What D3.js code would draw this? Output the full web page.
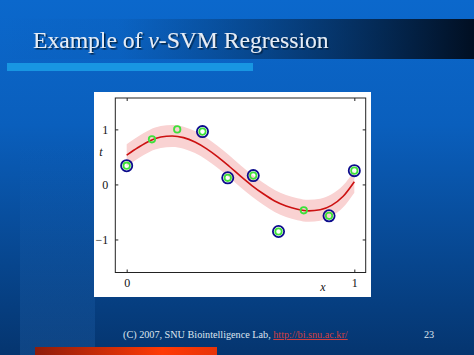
<!DOCTYPE html>
<html>
<head>
<meta charset="utf-8">
<script src="https://cdn.jsdelivr.net/npm/d3@7"></script>
<style>
  html, body { margin: 0; padding: 0; background: #0a5cb8; }
  svg { display: block; }
</style>
</head>
<body>
<div class="chart"></div>
<script>
// training points (x_n, t_n) and which ones are support vectors
const xPoints = [0, 0.111, 0.222, 0.333, 0.444, 0.556, 0.667, 0.778, 0.889, 1];
const tPoints = [0.34, 0.82, 1.0, 0.96, 0.12, 0.16, -0.855, -0.47, -0.57, 0.25];
const isSupport = [true, false, false, true, true, true, true, false, true, true];

// fitted regression curve
const curveX = [0, 0.05, 0.1, 0.15, 0.2, 0.25, 0.3, 0.35, 0.4, 0.45, 0.5,
                0.55, 0.6, 0.65, 0.7, 0.75, 0.8, 0.85, 0.9, 0.95, 1];
const curveY = [0.53, 0.67, 0.79, 0.86, 0.88, 0.85, 0.77, 0.65, 0.5, 0.33, 0.15,
                -0.02, -0.17, -0.3, -0.39, -0.45, -0.48, -0.46, -0.38, -0.22, 0.05];
const epsilon = 0.2;

const xTicks = [0, 1];
const xTickLabels = ["0", "1"];
const yTicks = [-1, 0, 1];
const yTickLabels = ["\u22121", "0", "1"];

const width = 474, height = 355;

let svg = d3.select(".chart").append("svg")
  .attr("width", width)
  .attr("height", height);

let defs = svg.append("defs");

let bg = defs.append("linearGradient").attr("id", "bg")
  .attr("x1", 0).attr("y1", 0).attr("x2", 0).attr("y2", 1);
bg.append("stop").attr("offset", "0%").attr("stop-color", "#0b68cc");
bg.append("stop").attr("offset", "35%").attr("stop-color", "#0a5fbd");
bg.append("stop").attr("offset", "100%").attr("stop-color", "#05356f");

let col = defs.append("linearGradient").attr("id", "col")
  .attr("x1", 0).attr("y1", 0).attr("x2", 0).attr("y2", 1);
col.append("stop").attr("offset", "40%").attr("stop-color", "#3a8ae0").attr("stop-opacity", 0);
col.append("stop").attr("offset", "100%").attr("stop-color", "#3a8ae0").attr("stop-opacity", 0.18);

let band = defs.append("linearGradient").attr("id", "band")
  .attr("x1", 0).attr("y1", 0).attr("x2", 1).attr("y2", 0);
band.append("stop").attr("offset", "0%").attr("stop-color", "#04254d").attr("stop-opacity", 0);
band.append("stop").attr("offset", "25%").attr("stop-color", "#04254d").attr("stop-opacity", 0.05);
band.append("stop").attr("offset", "100%").attr("stop-color", "#010f22").attr("stop-opacity", 1);

let orange = defs.append("linearGradient").attr("id", "orange")
  .attr("x1", 0).attr("y1", 0).attr("x2", 1).attr("y2", 0);
orange.append("stop").attr("offset", "0%").attr("stop-color", "#8e1c0a");
orange.append("stop").attr("offset", "70%").attr("stop-color", "#ff3a05");
orange.append("stop").attr("offset", "100%").attr("stop-color", "#e83408");

let shadow = defs.append("filter").attr("id", "shadow");
shadow.append("feDropShadow").attr("dx", 1.5).attr("dy", 1.5)
  .attr("stdDeviation", 0.6).attr("flood-color", "#021a3a").attr("flood-opacity", 0.9);

// slide background
svg.append("rect").attr("width", width).attr("height", height).attr("fill", "url(#bg)");
svg.append("rect").attr("x", 20).attr("y", 0).attr("width", 75).attr("height", height)
  .attr("fill", "url(#col)");
svg.append("rect").attr("x", 0).attr("y", 19).attr("width", width).attr("height", 40)
  .attr("fill", "url(#band)");
svg.append("rect").attr("x", 7).attr("y", 63).attr("width", 246).attr("height", 8)
  .attr("fill", "#1896e2");
svg.append("rect").attr("x", 35).attr("y", 347).attr("width", 182).attr("height", 8)
  .attr("fill", "url(#orange)");

// title
let title = svg.append("text")
  .attr("x", 33).attr("y", 48)
  .attr("font-family", "Liberation Serif, Times New Roman, serif")
  .attr("font-size", 23.6)
  .attr("fill", "#e6edf6")
  .attr("filter", "url(#shadow)");
title.append("tspan").text("Example of ");
title.append("tspan").attr("font-style", "italic").text("ν");
title.append("tspan").text("-SVM Regression");

// footer
let foot = svg.append("text")
  .attr("x", 123).attr("y", 338)
  .attr("font-family", "Liberation Serif, Times New Roman, serif")
  .attr("font-size", 10.2)
  .attr("fill", "#dfe6f0");
foot.append("tspan").text("(C) 2007, SNU Biointelligence Lab, ");
foot.append("tspan").attr("fill", "#d04040").attr("text-decoration", "underline")
  .text("http://bi.snu.ac.kr/");
svg.append("text")
  .attr("x", 429).attr("y", 338).attr("text-anchor", "middle")
  .attr("font-family", "Liberation Serif, Times New Roman, serif")
  .attr("font-size", 10.2).attr("fill", "#dfe6f0")
  .text("23");

// white figure panel
svg.append("rect").attr("x", 94).attr("y", 92).attr("width", 277).attr("height", 205)
  .attr("fill", "#ffffff");

let x = d3.scaleLinear().domain([-0.05, 1.05]).range([115.3, 365.7]);
let y = d3.scaleLinear().domain([-1.6, 1.57]).range([272.5, 98]);

let plot = svg.append("g");

let curve = curveX.map((d, i) => [d, curveY[i]]);

let area = d3.area()
  .x((d) => x(d[0]))
  .y0((d) => y(d[1] - epsilon))
  .y1((d) => y(d[1] + epsilon))
  .curve(d3.curveMonotoneX);

plot.append("path")
  .datum(curve)
  .attr("d", area)
  .attr("fill", "#f9d2d2");

let line = d3.line()
  .x((d) => x(d[0]))
  .y((d) => y(d[1]))
  .curve(d3.curveMonotoneX);

plot.append("path")
  .datum(curve)
  .attr("d", line)
  .attr("fill", "none")
  .attr("stroke", "#cc1111")
  .attr("stroke-width", 1.6);

let pts = xPoints.map((d, i) => ({x: d, t: tPoints[i], sv: isSupport[i]}));

plot.selectAll(".sv")
  .data(pts.filter((d) => d.sv))
  .enter().append("circle")
    .attr("class", "sv")
    .attr("cx", (d) => x(d.x))
    .attr("cy", (d) => y(d.t))
    .attr("r", 5.6)
    .attr("fill", "none")
    .attr("stroke", "#0c0c8c")
    .attr("stroke-width", 1.8);

plot.selectAll(".pt")
  .data(pts)
  .enter().append("circle")
    .attr("class", "pt")
    .attr("cx", (d) => x(d.x))
    .attr("cy", (d) => y(d.t))
    .attr("r", 3.2)
    .attr("fill", "none")
    .attr("stroke", "#3ee03a")
    .attr("stroke-width", 1.8);

// axes box with inward ticks
const axisFont = "Liberation Serif, Times New Roman, serif";

function styleAxis(g) {
  g.select(".domain").remove();
  g.selectAll("line").attr("stroke", "#222");
  g.selectAll("text").attr("font-family", axisFont).attr("font-size", 12).attr("fill", "#111");
}

svg.append("g")
  .attr("transform", "translate(0," + y.range()[0] + ")")
  .call(d3.axisBottom(x).tickValues(xTicks).tickSizeInner(-3).tickSizeOuter(0).tickPadding(6)
    .tickFormat((d, i) => xTickLabels[i]))
  .call(styleAxis);

svg.append("g")
  .attr("transform", "translate(0," + y.range()[1] + ")")
  .call(d3.axisTop(x).tickValues(xTicks).tickSizeInner(-3).tickSizeOuter(0).tickFormat(""))
  .call(styleAxis);

svg.append("g")
  .attr("transform", "translate(" + x.range()[0] + ",0)")
  .call(d3.axisLeft(y).tickValues(yTicks).tickSizeInner(-3).tickSizeOuter(0).tickPadding(7)
    .tickFormat((d, i) => yTickLabels[i]))
  .call(styleAxis);

svg.append("g")
  .attr("transform", "translate(" + x.range()[1] + ",0)")
  .call(d3.axisRight(y).tickValues(yTicks).tickSizeInner(-3).tickSizeOuter(0).tickFormat(""))
  .call(styleAxis);

svg.append("rect")
  .attr("x", x.range()[0]).attr("y", y.range()[1])
  .attr("width", x.range()[1] - x.range()[0])
  .attr("height", y.range()[0] - y.range()[1])
  .attr("fill", "none")
  .attr("stroke", "#222")
  .attr("stroke-width", 1);

// axis names
svg.append("text")
  .attr("x", 101).attr("y", y(0.59)).attr("dy", "0.35em")
  .attr("text-anchor", "middle")
  .attr("font-family", axisFont).attr("font-style", "italic")
  .attr("font-size", 12).attr("fill", "#111")
  .text("t");

svg.append("text")
  .attr("x", 323).attr("y", 291)
  .attr("text-anchor", "middle")
  .attr("font-family", axisFont).attr("font-style", "italic")
  .attr("font-size", 12).attr("fill", "#111")
  .text("x");
</script>
</body>
</html>
